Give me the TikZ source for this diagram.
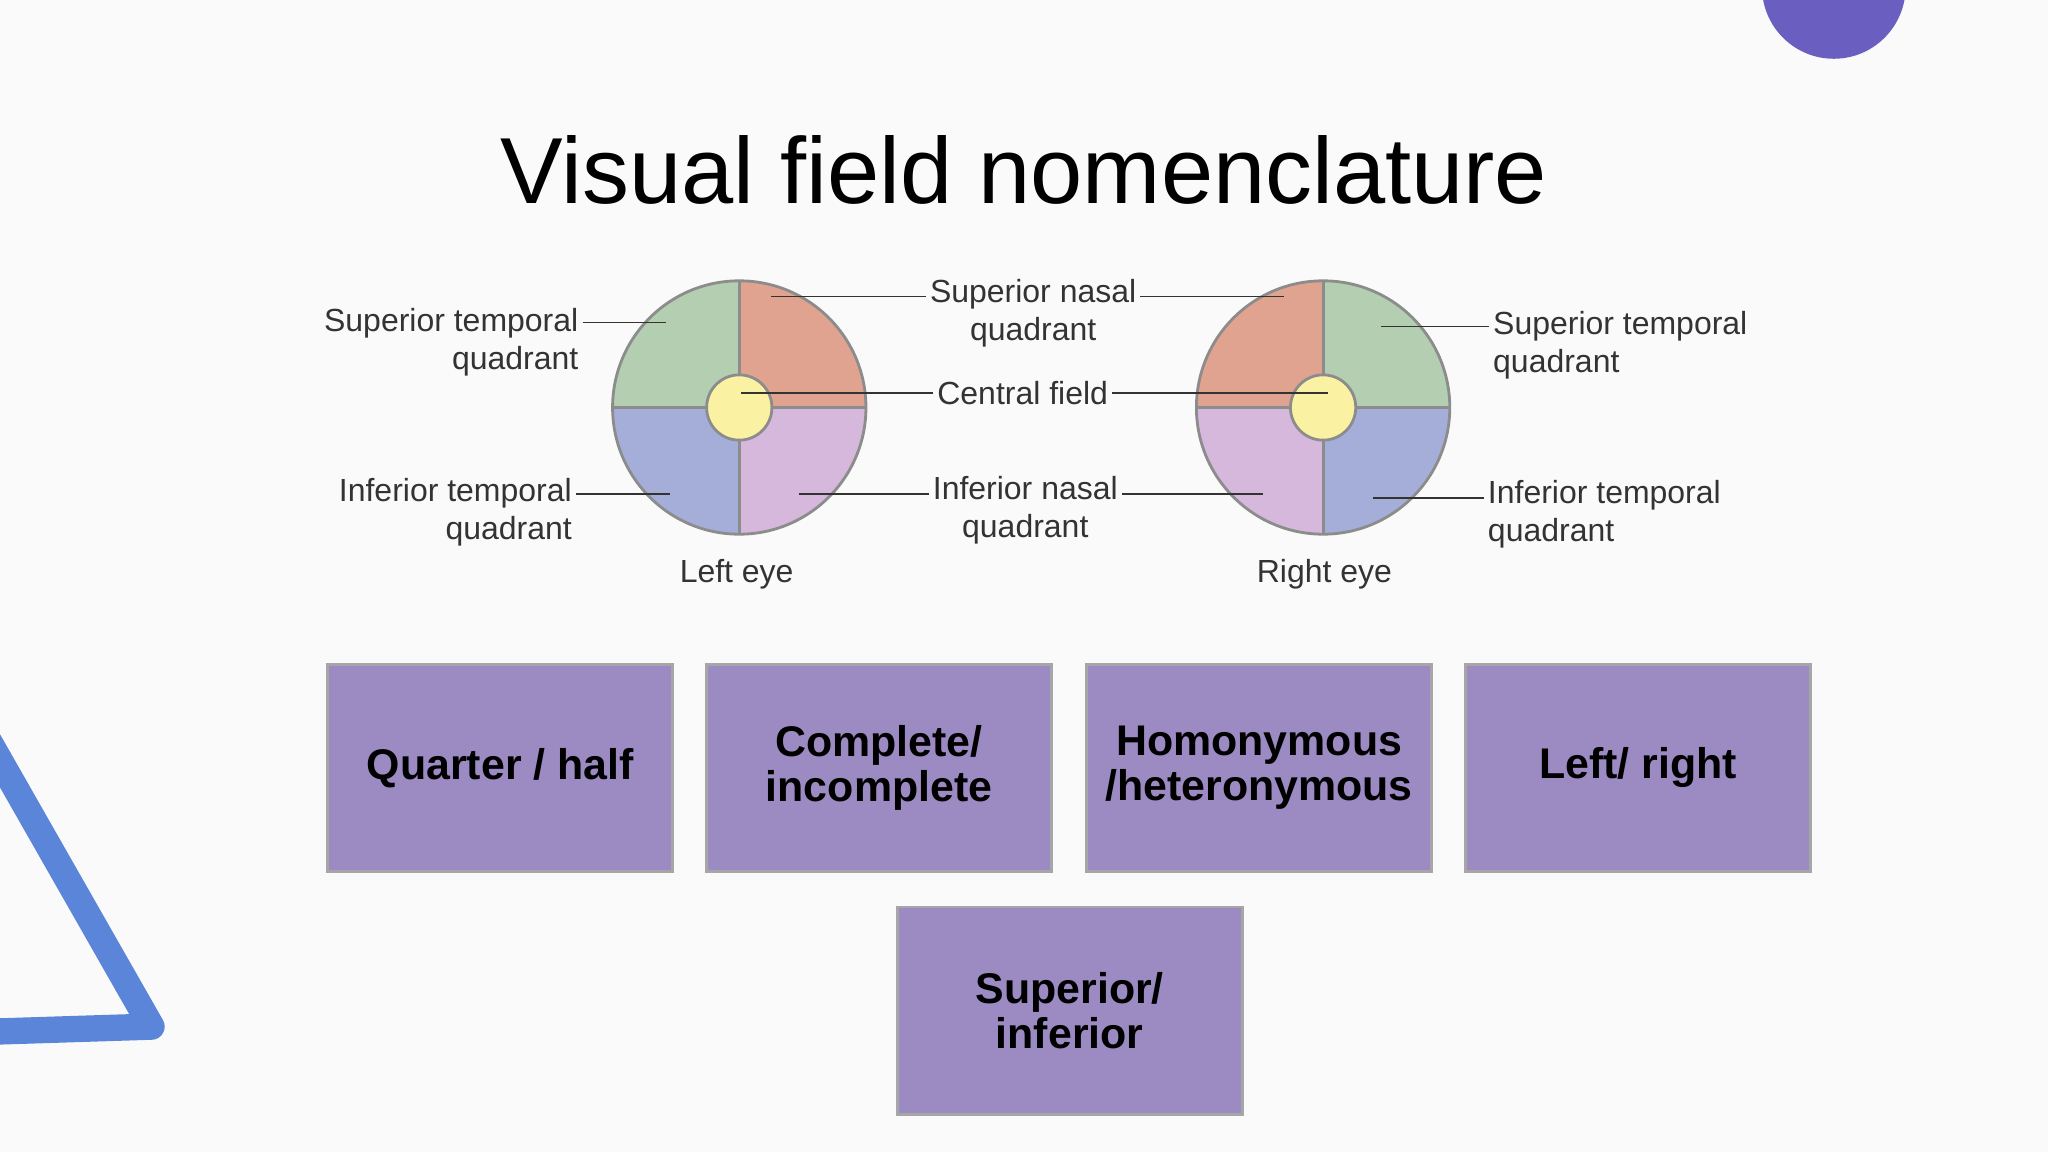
\documentclass[tikz,border=0pt]{standalone}
\usepackage{fontspec}
\setmainfont{Liberation Sans}
\definecolor{qgreen}{HTML}{B3CEB0}
\definecolor{qsalmon}{HTML}{E0A38F}
\definecolor{qblue}{HTML}{A4AED8}
\definecolor{qlilac}{HTML}{D5B8DC}
\definecolor{qyellow}{HTML}{FAF2A2}
\definecolor{boxpurple}{HTML}{9C8AC2}
\definecolor{dotpurple}{HTML}{6A5FC0}
\definecolor{triblue}{HTML}{5B85D8}
\newcommand{\quadr}[3]{\fill[#3] (#1) -- ++(#2:97) arc[start angle=#2, end angle=#2+90, radius=97] -- cycle;}
\tikzset{
  lbl/.style={font=\fontsize{9.1pt}{10.8pt}\selectfont, text=black!80, inner sep=1pt},
  ptr/.style={black!80, line width=0.5pt},
  term/.style={draw=black!35, fill=boxpurple, line width=0.8pt, minimum width=3.448cm, minimum height=2.077cm,
    align=center, font=\fontsize{12.2pt}{12.8pt}\selectfont\bfseries}
}
\begin{document}
\begin{tikzpicture}[x=0.013061cm, y=-0.013061cm]
    \useasboundingbox[fill=white!98!black] (0,0) rectangle (1568,882);
    % decorations
    \fill[dotpurple] (1404,-10) circle (55);
    \draw[triblue, line width=7.5pt, line join=round] (-10,565) -- (116,786) -- (-10,790);
    \node (title) at (784,130) {\fontsize{26.7pt}{30pt}\selectfont Visual field nomenclature};

    % eyes
    \coordinate (le) at (566,312);
    \coordinate (re) at (1013,312);
    \quadr{le}{180}{qgreen} \quadr{le}{270}{qsalmon} \quadr{le}{90}{qblue} \quadr{le}{0}{qlilac}
    \quadr{re}{180}{qsalmon} \quadr{re}{270}{qgreen} \quadr{re}{90}{qlilac} \quadr{re}{0}{qblue}
    \foreach \e in {le,re} {
        \draw[black!45, line width=0.8pt] (\e) circle (97);
        \draw[black!45, line width=0.8pt] (\e) ++(0,-97) -- ++(0,194) (\e) ++(-97,0) -- ++(194,0);
        \draw[black!45, fill=qyellow, line width=0.8pt] (\e) circle (25);
    }

    % labels
    \node[lbl, align=right, anchor=east] (lst) at (446,262) {Superior temporal\\quadrant};
    \node[lbl, align=right, anchor=east] (lit) at (441,392) {Inferior temporal\\quadrant};
    \node[lbl, align=center] (sn) at (791,240) {Superior nasal\\quadrant};
    \node[lbl] (cf) at (783,301) {Central field};
    \node[lbl, align=center] (in) at (785,391) {Inferior nasal\\quadrant};
    \node[lbl, align=left, anchor=west] (rst) at (1140,264) {Superior temporal\\quadrant};
    \node[lbl, align=left, anchor=west] (rit) at (1136,394) {Inferior temporal\\quadrant};
    \node[lbl] (leye) at (564,440) {Left eye};
    \node[lbl] (reye) at (1014,440) {Right eye};

    \coordinate (p1) at (510,247);
    \coordinate (p2) at (590,227);
    \coordinate (p3) at (983,227);
    \coordinate (p4) at (567,303);
    \coordinate (p5) at (1017,303);
    \coordinate (p6) at (513,378);
    \coordinate (p7) at (612,378);
    \coordinate (p8) at (967,378);
    \coordinate (p9) at (1057,250);
    \coordinate (p10) at (1051,381);

    \draw[ptr] (lst.east |- p1) -- (p1);
    \draw[ptr] (sn.west |- p2) -- (p2);
    \draw[ptr] (sn.east |- p3) -- (p3);
    \draw[ptr] (cf.west) -- (cf.west -| p4);
    \draw[ptr] (cf.east) -- (cf.east -| p5);
    \draw[ptr] (lit.east |- p6) -- (p6);
    \draw[ptr] (in.west |- p7) -- (p7);
    \draw[ptr] (in.east |- p8) -- (p8);
    \draw[ptr] (rst.west |- p9) -- (p9);
    \draw[ptr] (rit.west |- p10) -- (p10);

    % terms
    \node[term] (t1) at (383,588) {Quarter / half};
    \node[term] (t2) at (673,588) {Complete/\\incomplete};
    \node[term] (t3) at (964,588) {Homonymous\\/heteronymous};
    \node[term] (t4) at (1254,588) {Left/ right};
    \node[term] (t5) at (819,774) {Superior/\\inferior};
\end{tikzpicture}
\end{document}
